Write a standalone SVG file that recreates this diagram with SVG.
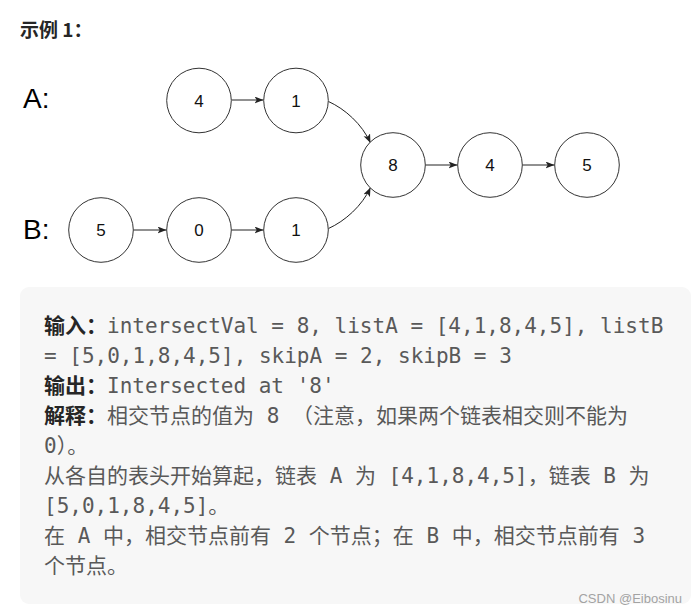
<svg xmlns="http://www.w3.org/2000/svg" width="694" height="613" viewBox="0 0 694 613">
<style>
.node circle{fill:#fff;stroke:#333;stroke-width:1}
.node text{font-family:"Liberation Sans",Arial,sans-serif;font-size:17px;fill:#111;text-anchor:middle}
.lbl{font-family:"Liberation Sans",Arial,sans-serif;font-size:28px;fill:#000}
.edge{fill:none;stroke:#222;stroke-width:1;marker-end:url(#arr)}
.title{font-family:"Noto Sans CJK SC","Noto Sans",sans-serif;font-size:19px;font-weight:bold;fill:#262626}
.body{font-family:"DejaVu Sans Mono","Noto Sans CJK SC",monospace;font-size:21px;fill:#595959}
.b{font-family:"Noto Sans CJK SC",sans-serif;font-weight:bold;fill:#262626}
.wm{font-family:"Liberation Sans",Arial,sans-serif;font-size:13px;fill:#a3a3a3}
</style>
<defs>
<marker id="arr" markerUnits="userSpaceOnUse" markerWidth="10" markerHeight="8" refX="9" refY="3.5" orient="auto">
<path d="M0,0 L9,3.5 L0,7 L2.2,3.5 Z" fill="#222"/>
</marker>
</defs>
<rect width="694" height="613" fill="#fff"/>
<text class="title" x="20" y="37">示例 1：</text>
<text class="lbl" x="23" y="108">A:</text>
<text class="lbl" x="23" y="239">B:</text>
<g id="connectors">
<line class="edge" x1="231.5" y1="100" x2="263.5" y2="100"/>
<line class="edge" x1="133.5" y1="230" x2="166.5" y2="230"/>
<line class="edge" x1="231.5" y1="230" x2="263.5" y2="230"/>
<line class="edge" x1="425.5" y1="165" x2="457.5" y2="165"/>
<line class="edge" x1="522.5" y1="165" x2="554.5" y2="165"/>
<path class="edge" d="M328.5,101.5 C345,109 362,124 370.5,143"/>
<path class="edge" d="M328.5,228.5 C345,221 362,206 370.5,187.5"/>
</g>
<g id="nA4" class="node"><circle cx="199" cy="100.5" r="32.3"/><text x="199" y="106.5">4</text></g>
<g id="nA1" class="node"><circle cx="296" cy="100.5" r="32.3"/><text x="296" y="106.5">1</text></g>
<g id="n8" class="node"><circle cx="393" cy="165" r="32.3"/><text x="393" y="171">8</text></g>
<g id="n4" class="node"><circle cx="490" cy="165" r="32.3"/><text x="490" y="171">4</text></g>
<g id="n5" class="node"><circle cx="587" cy="165" r="32.3"/><text x="587" y="171">5</text></g>
<g id="nB5" class="node"><circle cx="101" cy="230" r="32.3"/><text x="101" y="236">5</text></g>
<g id="nB0" class="node"><circle cx="199" cy="230" r="32.3"/><text x="199" y="236">0</text></g>
<g id="nB1" class="node"><circle cx="296" cy="230" r="32.3"/><text x="296" y="236">1</text></g>
<rect x="20" y="287" width="671" height="317" rx="9" fill="#f7f7f7"/>
<text class="body" x="44" y="333"><tspan class="b">输入：</tspan>intersectVal = 8, listA = [4,1,8,4,5], listB</text>
<text class="body" x="44" y="363">= [5,0,1,8,4,5], skipA = 2, skipB = 3</text>
<text class="body" x="44" y="393"><tspan class="b">输出：</tspan>Intersected at '8'</text>
<text class="body" x="44" y="423"><tspan class="b">解释：</tspan>相交节点的值为 8 （注意，如果两个链表相交则不能为</text>
<text class="body" x="44" y="453">0）。</text>
<text class="body" x="44" y="483">从各自的表头开始算起，链表 A 为 [4,1,8,4,5]，链表 B 为</text>
<text class="body" x="44" y="513">[5,0,1,8,4,5]。</text>
<text class="body" x="44" y="543">在 A 中，相交节点前有 2 个节点；在 B 中，相交节点前有 3</text>
<text class="body" x="44" y="573">个节点。</text>
<text class="wm" x="682" y="603" text-anchor="end">CSDN @Eibosinu</text>
</svg>
